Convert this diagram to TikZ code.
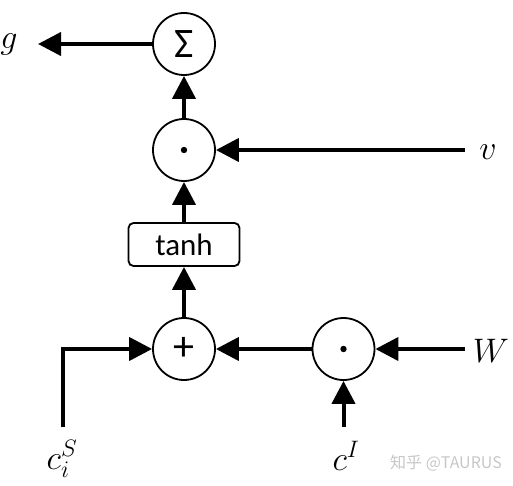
\RequirePackage{fix-cm}
\documentclass[tikz,border=0pt]{standalone}
\usepackage{fontspec}
\setmainfont{Carlito}
\newfontfamily\cjkfont{Noto Sans CJK SC}
\usetikzlibrary{arrows.meta}
\tikzset{
  opcircle/.style={circle, draw, line width=1.8pt, minimum size=62pt, inner sep=0pt, font=\fontsize{31}{36}\selectfont},
  fbox/.style={draw, rounded corners=5pt, line width=1.8pt, minimum width=111pt, minimum height=43pt, inner sep=0pt, font=\fontsize{31}{36}\selectfont},
  conn/.style={line width=4pt, -{Triangle[length=23pt,width=23pt]}},
  lbl/.style={inner sep=0pt, font=\fontsize{34}{40}\selectfont}
}
\begin{document}
\begin{tikzpicture}[x=1pt,y=-1pt]
\useasboundingbox (0,0) rectangle (513,486);
\node[opcircle, font=\fontsize{42}{46}\selectfont] (sum) at (184,44) {Σ};
\node[opcircle] (mulv) at (184,150) {};
\fill (mulv.center) circle (3.2pt);
\node[fbox] (tanh) at (184,244.5) {tanh};
\node[opcircle, font=\fontsize{42}{46}\selectfont] (plus) at (184,349) {+};
\node[opcircle] (mulw) at (343.5,349) {};
\fill (mulw.center) circle (3.2pt);
\node[lbl] (g) at (9,44) {$g$};
\node[lbl] (v) at (488,152) {$v$};
\node[lbl] (W) at (491,351) {$W$};
\node[lbl] (cS) at (62,459) {$c_i^S$};
\node[lbl] (cI) at (346,456) {$c^I$};
\node[inner sep=0pt, text=black!22, font=\cjkfont\fontsize{16}{18}\selectfont] (wm) at (446,463) {知乎 @TAURUS};
\coordinate (gend) at (38,44);
\coordinate (vstart) at (465,150);
\coordinate (Wstart) at (465,349);
\coordinate (cSstart) at (63,427);
\coordinate (cScorner) at (63,349);
\coordinate (cIstart) at (343.5,427);
\draw[conn] (sum.west) -- (gend);
\draw[conn] (mulv) -- (sum);
\draw[conn] (vstart) -- (mulv);
\draw[conn] (tanh) -- (mulv);
\draw[conn] (plus) -- (tanh);
\draw[conn] (mulw) -- (plus);
\draw[conn] (Wstart) -- (mulw);
\draw[conn] (cIstart) -- (mulw);
\draw[conn] (cSstart) -- (cScorner) -- (plus.west);
\end{tikzpicture}
\end{document}
